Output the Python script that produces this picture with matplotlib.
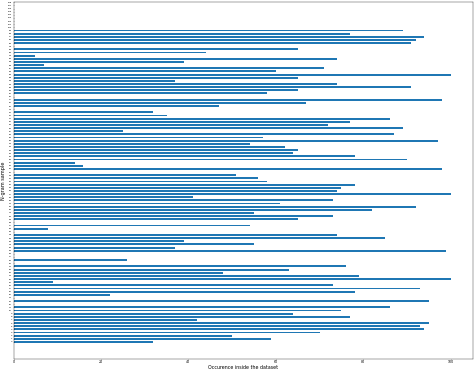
import matplotlib
matplotlib.use("Agg")
import matplotlib.pyplot as plt
import numpy as np

# N-gram sample index (categories) and occurrence counts
samples = list(range(100))
occurrences = [
    32, 59, 50, 70, 94, 93, 95, 42, 77, 64,
    75, 86, 0, 95, 0, 22, 78, 93, 73, 9,
    100, 79, 48, 63, 76, 0, 26, 0, 0, 99,
    37, 55, 39, 85, 74, 0, 8, 54, 0, 65,
    73, 55, 82, 92, 61, 73, 41, 100, 74, 75,
    78, 58, 56, 51, 0, 98, 16, 14, 90, 78,
    64, 65, 62, 54, 97, 57, 87, 25, 89, 72,
    77, 86, 35, 32, 0, 47, 67, 98, 0, 58,
    65, 91, 74, 37, 65, 100, 60, 71, 7, 39,
    74, 5, 44, 65, 0, 91, 92, 94, 77, 89,
]
ytick_values = list(range(109))

fig = plt.figure(figsize=(4.74, 3.70), dpi=100)
ax = fig.add_axes([0.0285, 0.031, 0.9685, 0.963])
ax.barh(samples, occurrences, height=0.6, color="#1f77b4")
ax.set_yticks(ytick_values)
ax.set_yticklabels([str(v) for v in ytick_values], fontsize=1.6)
ax.set_xticks([0, 20, 40, 60, 80, 100])
ax.tick_params(axis="x", labelsize=2.3, length=0.6, width=0.2, pad=0.6)
ax.tick_params(axis="y", length=0.6, width=0.2, pad=0.5)
for s in ax.spines.values():
    s.set_linewidth(0.25)
ax.set_xlabel("Occurence inside the dataset", fontsize=3.4, labelpad=0.3)
ax.set_ylabel("N-gram sample", fontsize=3.6, labelpad=1.5)
fig.savefig("out.png", dpi=100)
